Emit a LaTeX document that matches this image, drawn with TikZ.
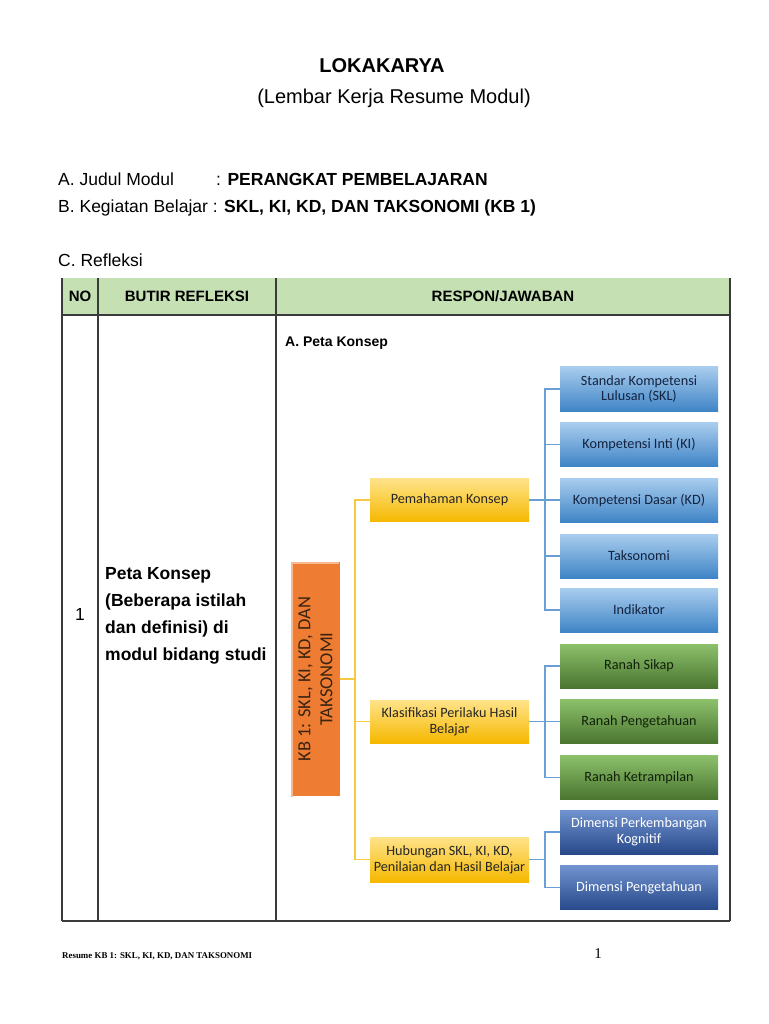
\documentclass[tikz,border=0pt]{standalone}
\usepackage{fontspec}
\setmainfont{Liberation Sans}
\newfontfamily\calib{Carlito}
\newfontfamily\footserif{Liberation Serif}
\usetikzlibrary{calc}
\definecolor{hdrgreen}{HTML}{C5E0B3}
\definecolor{tbl}{HTML}{3A3A3A}
\definecolor{bluem}{HTML}{5598D6}
\definecolor{bluet}{HTML}{A9CDEE}
\definecolor{blueb}{HTML}{3F84C6}
\definecolor{greenm}{HTML}{548235}
\definecolor{greent}{HTML}{8CC06A}
\definecolor{greenb}{HTML}{4A7530}
\definecolor{dbluem}{HTML}{2F5597}
\definecolor{dbluet}{HTML}{7193CF}
\definecolor{dblueb}{HTML}{28498A}
\definecolor{yelm}{HTML}{FFC000}
\definecolor{yelt}{HTML}{FFE38A}
\definecolor{yelb}{HTML}{F5B800}
\definecolor{orm}{HTML}{EE7D33}
\definecolor{ort}{HTML}{F8B890}
\definecolor{navytext}{HTML}{14233F}
\definecolor{greentext}{HTML}{10200A}
\definecolor{kbtext}{HTML}{3A2410}
\definecolor{yline}{HTML}{F7C843}
\definecolor{bline}{HTML}{6A9FD6}
\tikzset{
  x=1pt, y=-1pt,
  tline/.style={draw=tbl, line width=1.1pt},
  body/.style={font=\fontsize{17.5}{21}\selectfont, inner sep=0pt},
  bodyb/.style={font=\bfseries\fontsize{17.5}{21}\selectfont, inner sep=0pt},
  hdr/.style={font=\bfseries\fontsize{15}{18}\selectfont, inner sep=0pt},
  boxbase/.style={rectangle, inner sep=1pt, align=center, font=\calib\fontsize{14.2}{15.8}\selectfont},
  bluebox/.style={boxbase, minimum width=158pt, minimum height=44pt, top color=bluet, middle color=bluem, bottom color=blueb, text=navytext},
  greenbox/.style={boxbase, minimum width=158pt, minimum height=44pt, top color=greent, middle color=greenm, bottom color=greenb, text=greentext},
  dbluebox/.style={boxbase, minimum width=158pt, minimum height=44pt, top color=dbluet, middle color=dbluem, bottom color=dblueb, text=white},
  yelbox/.style={boxbase, minimum width=159pt, minimum height=43pt, top color=yelt, middle color=yelm, bottom color=yelb, text=black!85},
  orbox/.style={rectangle, minimum width=49pt, minimum height=234pt, fill=orm},
  yconn/.style={draw=yline, line width=1.8pt},
  bconn/.style={draw=bline, line width=1.6pt},
}
\begin{document}
\begin{tikzpicture}
\useasboundingbox (0,0) rectangle (768,1024);
\fill[white] (0,0) rectangle (768,1024);

% Titles
\node[inner sep=0pt, anchor=base, font=\bfseries\fontsize{20}{24}\selectfont] (t1) at (382,73) {LOKAKARYA};
\node[inner sep=0pt, anchor=base, font=\fontsize{20}{24}\selectfont] (t2) at (394,104) {(Lembar Kerja Resume Modul)};

\node[body, anchor=base west] (a1) at (58,186) {A. Judul Modul};
\node[body, anchor=base west] (a2) at (216,186) {: \textbf{PERANGKAT PEMBELAJARAN}};
\node[body, anchor=base west] (b1) at (58,213) {B. Kegiatan Belajar : \textbf{SKL, KI, KD, DAN TAKSONOMI (KB 1)}};
\node[body, anchor=base west] (c1) at (58,266) {C. Refleksi};

% Table
\fill[hdrgreen] (62,278) rectangle (730,315);
\draw[tline] (62,315) -- (730,315);
\draw[tline] (62,921) -- (730,921);
\draw[tline] (62,278) -- (62,921);
\draw[tline] (98,278) -- (98,921);
\draw[tline] (276,278) -- (276,921);
\draw[tline] (730,278) -- (730,921);

\node[hdr, anchor=base] (h1) at (80,301) {NO};
\node[hdr, anchor=base] (h2) at (187,301) {BUTIR REFLEKSI};
\node[hdr, anchor=base] (h3) at (503,301) {RESPON/JAWABAN};

\node[body, anchor=base] (n1) at (80,620) {1};
\node[bodyb, anchor=base west] (p1) at (105,579) {Peta Konsep};
\node[bodyb, anchor=base west] (p2) at (105,606) {(Beberapa istilah};
\node[bodyb, anchor=base west] (p3) at (105,633) {dan definisi) di};
\node[bodyb, anchor=base west] (p4) at (105,660) {modul bidang studi};

\node[inner sep=0pt, anchor=base west, font=\bfseries\fontsize{14}{17}\selectfont] (pk0) at (285,346) {A. Peta Konsep};

% Diagram boxes
\node[orbox] (kb) at (315.5,679) {};
\draw[ort, line width=2pt] ([xshift=1pt,yshift=-1pt]kb.south west) -- ([xshift=1pt,yshift=-1pt]kb.north west) -- ([xshift=-1pt,yshift=-1pt]kb.north east);
\node[rotate=90, align=center, inner sep=0pt, font=\calib\fontsize{18.5}{22}\selectfont, text=kbtext] (kbt) at (315.5,679) {KB 1: SKL, KI, KD, DAN\\TAKSONOMI};

\node[yelbox] (pk) at (449.5,500) {Pemahaman Konsep};
\node[yelbox] (kp) at (449.5,721.5) {Klasifikasi Perilaku Hasil\\Belajar};
\node[yelbox, minimum height=45pt] (hb) at (449.5,859.5) {Hubungan SKL, KI, KD,\\Penilaian dan Hasil Belajar};

\node[bluebox, minimum height=45pt] (skl) at (639,389) {Standar Kompetensi\\Lulusan (SKL)};
\node[bluebox] (ki) at (639,444.5) {Kompetensi Inti (KI)};
\node[bluebox] (kd) at (639,500) {Kompetensi Dasar (KD)};
\node[bluebox] (tak) at (639,556) {Taksonomi};
\node[bluebox] (ind) at (639,610) {Indikator};

\node[greenbox] (rs) at (639,666) {Ranah Sikap};
\node[greenbox] (rp) at (639,721.5) {Ranah Pengetahuan};
\node[greenbox] (rk) at (639,777.5) {Ranah Ketrampilan};

\node[dbluebox] (dp) at (639,832) {Dimensi Perkembangan\\Kognitif};
\node[dbluebox] (dg) at (639,887.5) {Dimensi Pengetahuan};

% Connectors
\coordinate (trunk) at (355,679);
\draw[yconn] (kb.east) -- (trunk);
\draw[yconn] (trunk) |- (pk.west);
\draw[yconn] (trunk) |- (kp.west);
\draw[yconn] (trunk) |- (hb.west);

\foreach \c in {skl,ki,kd,tak,ind}{
  \draw[bconn] (pk.east) -- ++(16,0) |- (\c.west);
}
\foreach \c in {rs,rp,rk}{
  \draw[bconn] (kp.east) -- ++(16,0) |- (\c.west);
}
\foreach \c in {dp,dg}{
  \draw[bconn] (hb.east) -- ++(16,0) |- (\c.west);
}

% Footer
\node[inner sep=0pt, anchor=base west, font=\footserif\bfseries\fontsize{8.9}{11}\selectfont] (ft) at (62,958) {Resume KB 1: SKL, KI, KD, DAN TAKSONOMI};
\node[inner sep=0pt, anchor=base, font=\footserif\fontsize{15}{18}\selectfont] (pg) at (598,958) {1};
\end{tikzpicture}
\end{document}
